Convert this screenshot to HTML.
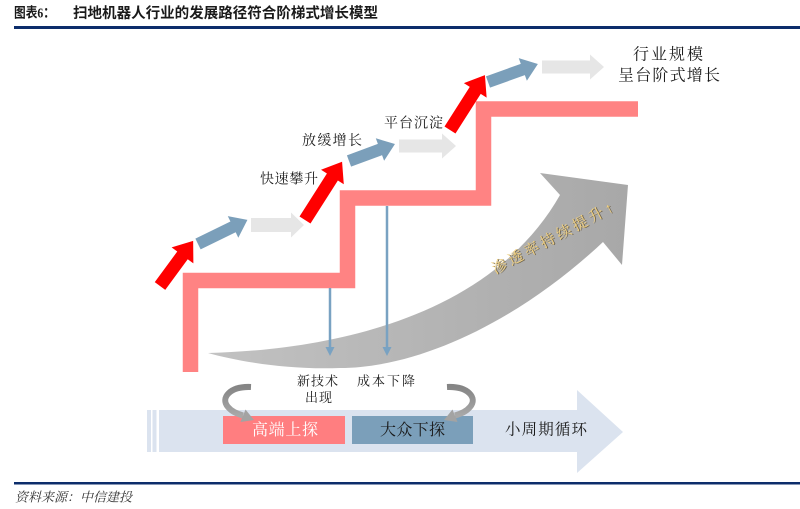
<!DOCTYPE html>
<html>
<head>
<meta charset="utf-8">
<style>
  html,body{margin:0;padding:0;background:#fff;}
  svg{display:block;}
  .t{font-family:"Liberation Serif","Noto Serif CJK SC",serif;fill:#1a1a1a;}
</style>
</head>
<body>
<svg width="800" height="509" viewBox="0 0 800 509" xmlns="http://www.w3.org/2000/svg">
  <defs>
    <linearGradient id="gcurve" x1="0" y1="0" x2="1" y2="0">
      <stop offset="0" stop-color="#c2c2c2"/>
      <stop offset="1" stop-color="#a8a8a8"/>
    </linearGradient>
    <linearGradient id="gcurl" x1="0" y1="0" x2="0" y2="1">
      <stop offset="0" stop-color="#858585"/>
      <stop offset="1" stop-color="#a8a8a8"/>
    </linearGradient>
  </defs>
  <rect width="800" height="509" fill="#fff"/>

  <!-- Title -->
  <text x="14" y="14" dominant-baseline="central" font-family="Liberation Serif,'Noto Sans CJK SC',sans-serif" font-weight="bold" font-size="14" fill="#1a1a1a" textLength="41" lengthAdjust="spacingAndGlyphs">图表6：</text>
  <text x="73" y="14" dominant-baseline="central" font-family="'Liberation Sans','Noto Sans CJK SC',sans-serif" font-weight="bold" font-size="14.5" fill="#1a1a1a" textLength="305" lengthAdjust="spacingAndGlyphs">扫地机器人行业的发展路径符合阶梯式增长模型</text>
  <rect x="14" y="26" width="786" height="3" fill="#0c2d6b"/>

  <!-- Gray curved arrow -->
  <path d="M208,353 C330,350 490,318 560,195 L540,173 L628,185 L622,265 L603,242 C520,320 420,368 340,368 C290,370 240,362 208,353 Z" fill="url(#gcurve)"/>
  <g transform="translate(553,239) rotate(-28)">
    <text x="0.8" y="0.8" text-anchor="middle" dominant-baseline="central" font-family="'Liberation Serif','Noto Serif CJK SC',serif" font-size="15" fill="#6e6450" textLength="135" lengthAdjust="spacing">渗透率持续提升↑</text>
    <text x="0" y="0" text-anchor="middle" dominant-baseline="central" font-family="'Liberation Serif','Noto Serif CJK SC',serif" font-size="15" fill="#f0d080" textLength="135" lengthAdjust="spacing">渗透率持续提升↑</text>
  </g>

  <!-- Staircase -->
  <path d="M190.5,372 V280.5 H347.5 V198 H483.5 V109 H638" fill="none" stroke="#ff8383" stroke-width="15.5" stroke-linejoin="miter"/>

  <!-- Connectors -->
  <line x1="330" y1="288" x2="330" y2="349" stroke="#79a2c2" stroke-width="2.5"/>
  <polygon points="325.5,347 334.5,347 330,356" fill="#79a2c2"/>
  <line x1="387" y1="206" x2="387" y2="349" stroke="#79a2c2" stroke-width="2.5"/>
  <polygon points="382.5,347 391.5,347 387,356" fill="#79a2c2"/>

  <!-- Step arrows -->
  <path transform="translate(160,286) rotate(-53.7)" d="M0,-6.5 L38,-6.5 L38,-13.5 L56,0 L38,13.5 L38,6.5 L0,6.5Z" fill="#ff0000"/>
  <path transform="translate(198,244) rotate(-26)" d="M0,-6 L39,-6 L39,-12 L55,0 L39,12 L39,6 L0,6Z" fill="#7b9fba"/>
  <path transform="translate(251,225)" d="M0,-7 L40,-7 L40,-12.5 L53,0 L40,12.5 L40,7 L0,7Z" fill="#e6e6e6"/>

  <path transform="translate(305,220) rotate(-57.5)" d="M0,-6.5 L51,-6.5 L51,-13.5 L69,0 L51,13.5 L51,6.5 L0,6.5Z" fill="#ff0000"/>
  <path transform="translate(349,161) rotate(-20.3)" d="M0,-6 L33,-6 L33,-12 L49,0 L33,12 L33,6 L0,6Z" fill="#7b9fba"/>
  <path transform="translate(399,146)" d="M0,-6.5 L43,-6.5 L43,-12.5 L57,0 L43,12.5 L43,6.5 L0,6.5Z" fill="#e6e6e6"/>

  <path transform="translate(450,130) rotate(-57.5)" d="M0,-6.5 L47,-6.5 L47,-13.5 L65,0 L47,13.5 L47,6.5 L0,6.5Z" fill="#ff0000"/>
  <path transform="translate(488,82) rotate(-19.8)" d="M0,-6 L37,-6 L37,-12 L53,0 L37,12 L37,6 L0,6Z" fill="#7b9fba"/>
  <path transform="translate(542,67)" d="M0,-6.5 L48,-6.5 L48,-12.5 L62,0 L48,12.5 L48,6.5 L0,6.5Z" fill="#e6e6e6"/>

  <!-- Labels -->
  <text class="t" x="260" y="180" dominant-baseline="central" font-size="14" textLength="58" lengthAdjust="spacing">快速攀升</text>
  <text class="t" x="302" y="141.5" dominant-baseline="central" font-size="14" textLength="60" lengthAdjust="spacing">放缓增长</text>
  <text class="t" x="384" y="124" dominant-baseline="central" font-size="14" textLength="59" lengthAdjust="spacing">平台沉淀</text>
  <text class="t" x="633" y="55" dominant-baseline="central" font-size="16" textLength="70" lengthAdjust="spacing">行业规模</text>
  <text class="t" x="618" y="76" dominant-baseline="central" font-size="16" textLength="102" lengthAdjust="spacing">呈台阶式增长</text>

  <text class="t" x="297" y="381" dominant-baseline="central" font-size="13" textLength="41" lengthAdjust="spacing">新技术</text>
  <text class="t" x="305" y="397.5" dominant-baseline="central" font-size="13" textLength="27" lengthAdjust="spacing">出现</text>
  <text class="t" x="357" y="381" dominant-baseline="central" font-size="13" textLength="58" lengthAdjust="spacing">成本下降</text>

  <!-- Bottom band -->
  <rect x="147" y="410" width="4" height="42" fill="#dbe3ef"/>
  <rect x="152.5" y="410" width="4" height="42" fill="#dbe3ef"/>
  <path d="M159,410 H577 V390 L623,432 L577,473 V452 H159 Z" fill="#dbe3ef"/>

  <rect x="223" y="416" width="122" height="28" fill="#ff7e80"/>
  <rect x="352" y="416" width="121" height="28" fill="#7b9fba"/>
  <text x="252" y="430.5" dominant-baseline="central" font-family="'Liberation Serif','Noto Serif CJK SC',serif" font-size="16" fill="#ffffff" textLength="66" lengthAdjust="spacing">高端上探</text>
  <text class="t" x="380" y="430.5" dominant-baseline="central" font-size="16" textLength="65" lengthAdjust="spacing">大众下探</text>
  <text class="t" x="505" y="430" dominant-baseline="central" font-size="15.5" textLength="82" lengthAdjust="spacing">小周期循环</text>

  <!-- Curl arrows -->
  <g>
    <path d="M251,387 C230,386 220,398 228,407 C232,412 238,414 243,415.5" fill="none" stroke="url(#gcurl)" stroke-width="6"/>
    <polygon points="240.5,422 245.5,409.5 254,420" fill="#a3a3a3"/>
  </g>
  <g transform="translate(698,0) scale(-1,1)">
    <path d="M251,387 C230,386 220,398 228,407 C232,412 238,414 243,415.5" fill="none" stroke="url(#gcurl)" stroke-width="6"/>
    <polygon points="240.5,422 245.5,409.5 254,420" fill="#a3a3a3"/>
  </g>

  <!-- Footer -->
  <rect x="14" y="482" width="786" height="2.5" fill="#0c2d6b"/>
  <text x="15" y="497" dominant-baseline="central" font-family="'Liberation Serif','Noto Serif CJK SC',serif" font-style="italic" font-size="13" fill="#333" textLength="117" lengthAdjust="spacing">资料来源：中信建投</text>
</svg>
</body>
</html>
